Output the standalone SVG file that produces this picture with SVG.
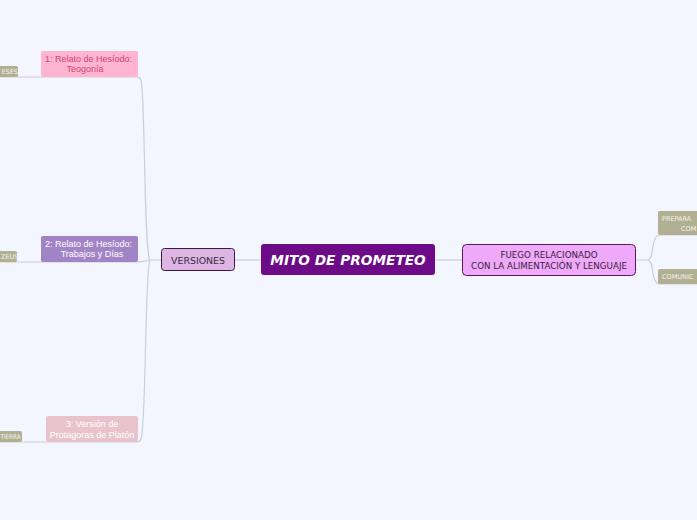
<svg xmlns="http://www.w3.org/2000/svg" width="697" height="520" viewBox="0 0 697 520">
<style>
.bg{fill:#f3f6fe}
.conn{fill:none;stroke:#cdcdd6;stroke-width:1.2}
.t{font-family:"Liberation Sans",Arial,sans-serif;text-anchor:middle}
.d{font-family:"DejaVu Sans","Liberation Sans",sans-serif;text-anchor:middle}
.tag{fill:#b2b093}
.tagt{font-family:"DejaVu Sans","Liberation Sans",sans-serif;font-size:6.5px;fill:#f4f4ee}
</style>
<rect class="bg" x="0" y="0" width="697" height="520"/>
<g id="connectors">
<path class="conn" d="M234,260 L261,260"/>
<path class="conn" d="M435,260 L462,260"/>
<path class="conn" d="M161,260 L150,260 C144,256 145,90 141,80 Q140,77 137,77 L0,77"/>
<path class="conn" d="M150,260 C145,261 142,262 137,262 L0,262"/>
<path class="conn" d="M150,260 C145,266 146,430 141,439 Q140,442 137,442 L0,442"/>
<path class="conn" d="M635,260 L648,260 C655,258 650,236 660,235 L697,235"/>
<path class="conn" d="M648,260 C655,262 650,283 660,284 L697,284"/>
</g>
<g id="central">
<rect x="261" y="244" width="174" height="31" rx="3" fill="#6d0a88"/>
<text class="d" x="348" y="265" font-size="13.7" font-weight="bold" font-style="italic" fill="#ffffff">MITO DE PROMETEO</text>
</g>
<g id="versiones">
<rect x="161.5" y="248.5" width="73" height="22" rx="3" fill="#dcb5e2" stroke="#3a1a40" stroke-width="1"/>
<text class="d" x="198" y="263.5" font-size="9.4" fill="#3a2a44">VERSIONES</text>
</g>
<g id="fuego">
<rect x="462.5" y="244.5" width="173" height="31" rx="4" fill="#eea9f8" stroke="#5a1a5e" stroke-width="1"/>
<text class="d" x="549" y="257.5" font-size="8.7" fill="#3a1a40">FUEGO RELACIONADO</text>
<text class="d" x="549" y="268.5" font-size="8.7" fill="#3a1a40">CON LA ALIMENTACIÓN Y LENGUAJE</text>
</g>
<g id="node1">
<rect x="41" y="51" width="97" height="26" rx="2" fill="#ffb5cf"/>
<text class="t" x="88.5" y="62" font-size="9" fill="#d2447c">1: Relato de Hesíodo:</text>
<text class="t" x="85" y="72" font-size="9" fill="#d2447c">Teogonía</text>
</g>
<g id="node2">
<rect x="41" y="236" width="97" height="26" rx="2" fill="#a084c6"/>
<text class="t" x="88.5" y="247" font-size="9" fill="#ffffff">2: Relato de Hesíodo:</text>
<text class="t" x="92" y="257" font-size="9" fill="#ffffff">Trabajos y Días</text>
</g>
<g id="node3">
<rect x="46" y="416" width="92" height="26" rx="2" fill="#e8c3cb"/>
<text class="t" x="92" y="427" font-size="9" fill="#ffffff">3: Versión de</text>
<text class="t" x="92" y="437.5" font-size="9" fill="#ffffff">Protagoras de Platón</text>
</g>
<g id="tag1">
<rect class="tag" x="-20" y="66" width="38" height="11" rx="2"/>
<text class="tagt" x="1.5" y="74">ESES</text>
</g>
<g id="tag2">
<rect class="tag" x="-20" y="251" width="37" height="11" rx="2"/>
<text class="tagt" x="1" y="259">ZEUS</text>
</g>
<g id="tag3">
<rect class="tag" x="-20" y="431" width="42" height="11" rx="2"/>
<text class="tagt" x="0.5" y="439" textLength="20" lengthAdjust="spacingAndGlyphs">TIERRA</text>
</g>
<g id="tag4">
<rect class="tag" x="658" y="211" width="60" height="24" rx="2"/>
<text class="tagt" x="662" y="221">PREPARA</text>
<text class="tagt" x="681" y="231">COM</text>
</g>
<g id="tag5">
<rect class="tag" x="658" y="269" width="60" height="15" rx="2"/>
<text class="tagt" x="662" y="279">COMUNIC</text>
</g>
</svg>
